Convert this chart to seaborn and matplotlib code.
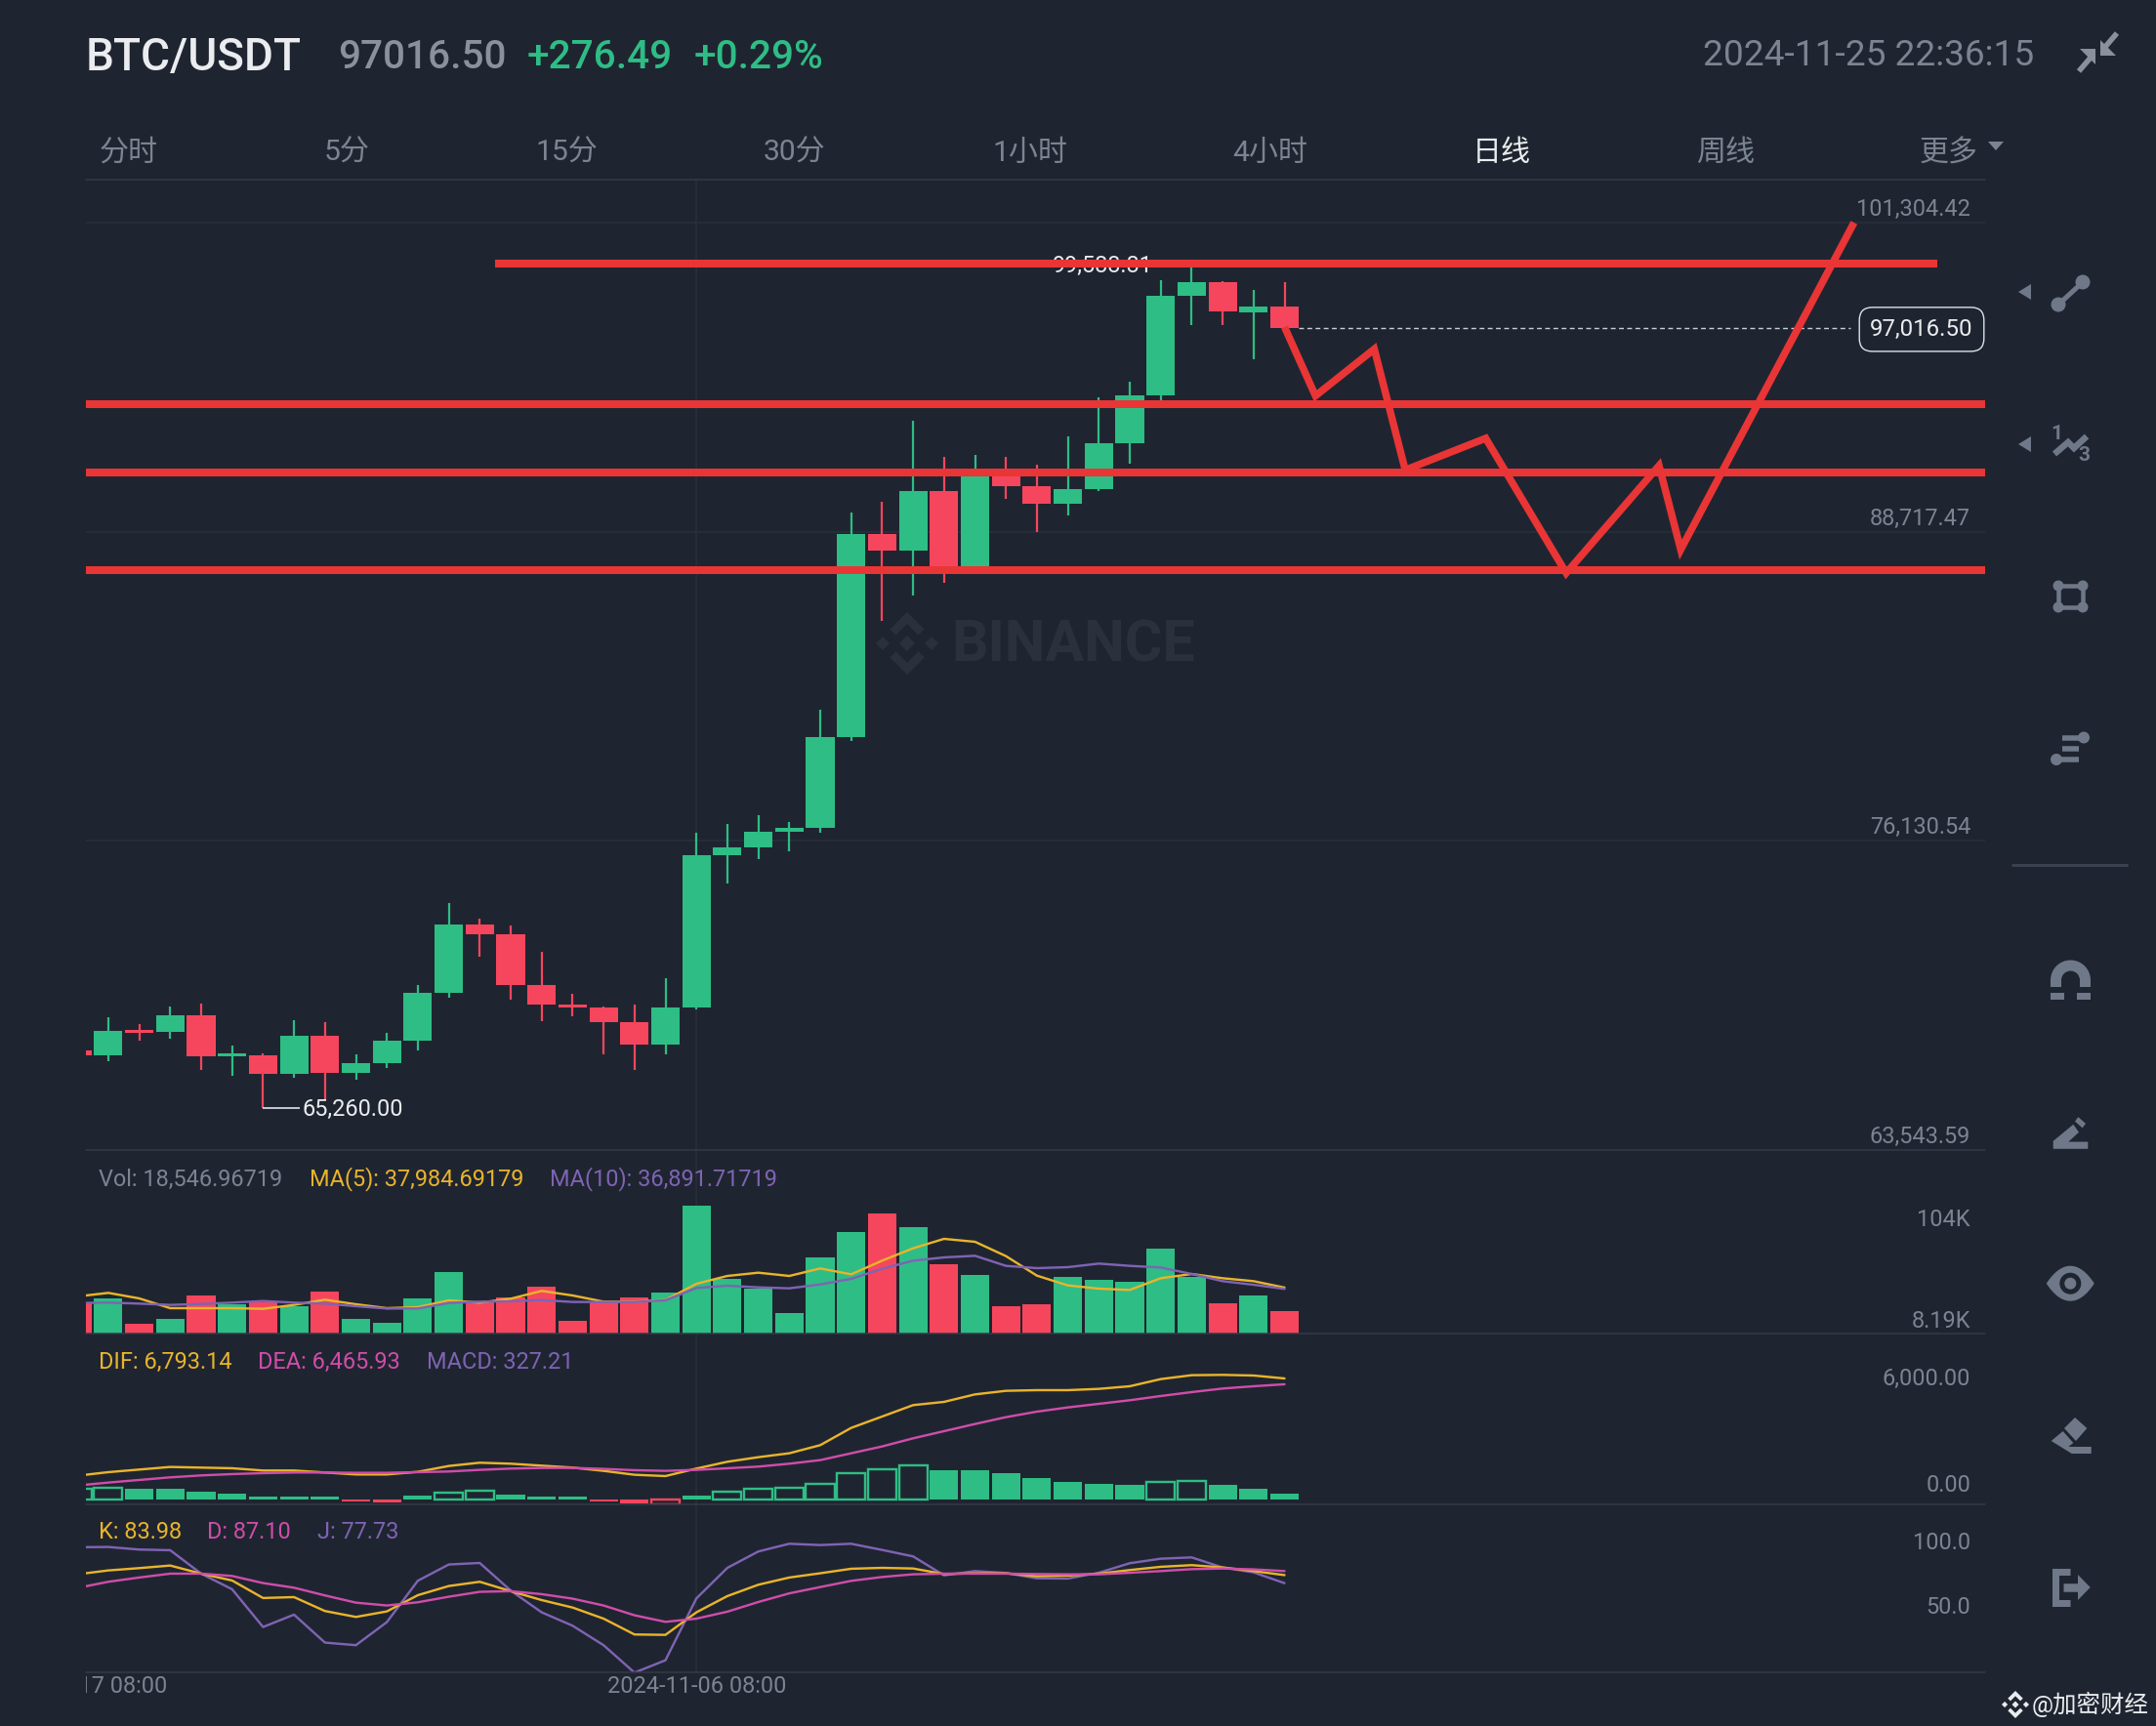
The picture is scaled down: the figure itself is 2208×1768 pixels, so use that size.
import matplotlib
matplotlib.use("Agg")
import matplotlib.pyplot as plt
import seaborn as sns
import numpy as np
import pandas as pd
from matplotlib.patches import Circle, Polygon, Rectangle, Wedge, PathPatch
from matplotlib.path import Path

W, H, DPI = 2208, 1768, 100
BG = "#1F2530"
GRID = "#2A303B"
AXLINE = "#333A46"
GREEN = "#2EBD85"
RED = "#F6465D"
DRAW_RED = "#E93535"
YELLOW = "#E9B42C"
PINK = "#CF4DAA"
PURPLE = "#7F63B4"
MUTED = "#7B8491"
ICON = "#6F7888"

opens = [67598, 67412, 68420, 68366, 69016, 67373, 67399, 66657, 68181, 66684,
         67068, 68009, 69957, 72712, 72328, 70274, 69480, 69360, 68764, 67836,
         69347, 75561, 75853, 76502, 76661, 80358, 88626, 87950, 90362, 87314,
         91100, 90573, 89845, 90454, 92309, 94283, 98312, 98881, 97662, 97888]
closes = [67399, 68406, 68300, 69016, 67373, 67479, 66657, 68181, 66684, 67068,
          67995, 69943, 72712, 72328, 70274, 69480, 69360, 68764, 67836, 69347,
          75548, 75853, 76489, 76661, 80358, 88626, 87950, 90362, 87275, 91223,
          90587, 89845, 90454, 92309, 94270, 98312, 98881, 97675, 97888, 97016.5]
highs = [67598, 68963, 68658, 69373, 69493, 67810, 67466, 68817, 68737, 67426,
         68300, 70248, 73587, 72951, 72673, 71600, 69890, 69387, 69466, 70553,
         76463, 76820, 77178, 76886, 81484, 89513, 89924, 93250, 91766, 91845,
         91753, 91435, 92588, 94204, 94814, 98974, 99588.81, 98908, 98550, 98868]
lows = [67399, 67174, 67996, 68088, 66816, 66551, 65260, 66498, 65584, 66419,
        66896, 67598, 69745, 71427, 69678, 68804, 68976, 67452, 66816, 67452,
        69281, 74408, 75390, 75723, 76476, 80199, 85072, 86134, 86651, 87314,
        90044, 88718, 89368, 90362, 91488, 94072, 97119, 97132, 95728, 97016.5]

volumes = [25800, 29030, 8064, 12365, 31718, 24192, 25805, 22848, 34675, 11827,
           8602, 29299, 50534, 25536, 29568, 38707, 10483, 25805, 30106, 33600,
           105638, 45158, 36826, 16934, 62630, 83597, 98918, 87898, 57523, 48384,
           22848, 24192, 47040, 44083, 42470, 70157, 46502, 24998, 31450, 18546.96719]
vol_ma5 = [30643, 33600, 29030, 20966, 20966, 20966, 20429, 23654, 27955, 24192,
           20966, 21773, 27418, 25536, 28762, 35213, 31450, 26342, 26342, 27686,
           41126, 47578, 50266, 47578, 53760, 48922, 60211, 70426, 78221, 75802,
           63974, 47846, 39782, 37094, 36019, 45696, 49190, 45696, 43277, 37984.69179]
vol_ma10 = [25267, 25536, 24730, 23654, 24461, 25536, 26880, 25536, 24730, 22579,
            20698, 20698, 25267, 26342, 26611, 27686, 26074, 26074, 26074, 27418,
            37632, 39514, 38170, 37363, 40589, 45158, 53491, 60211, 62899, 64243,
            55910, 54029, 54835, 57792, 55910, 54566, 49190, 43277, 40320, 36891.71719]

dif = [1312, 1514, 1660, 1807, 1770, 1734, 1605, 1605, 1495, 1385,
       1385, 1532, 1862, 2045, 1990, 1880, 1770, 1587, 1367, 1294,
       1715, 2100, 2357, 2577, 3035, 4007, 4648, 5290, 5473, 5895,
       6096, 6133, 6133, 6206, 6353, 6756, 6976, 6994, 6958, 6793.14]
dea = [762, 927, 1074, 1221, 1330, 1404, 1459, 1495, 1495, 1477,
       1477, 1514, 1550, 1642, 1715, 1752, 1752, 1697, 1624, 1587,
       1642, 1733, 1826, 1990, 2192, 2577, 2962, 3420, 3823, 4227,
       4612, 4923, 5161, 5363, 5565, 5803, 6023, 6225, 6353, 6465.93]
macd_hist = [605, 623, 587, 587, 440, 312, 147, 147, 147, -110,
             -202, 220, 367, 458, 275, 147, 147, -110, -257, -290,
             220, 440, 568, 642, 862, 1466, 1705, 1888, 1650, 1631,
             1485, 1210, 971, 862, 806, 971, 1008, 788, 587, 327.21]
macd_hollow = [1, 1, 0, 0, 0, 0, 0, 0, 0, 0,
               0, 0, 1, 1, 0, 0, 0, 0, 0, 1,
               0, 1, 1, 1, 1, 1, 1, 1, 0, 0,
               0, 0, 0, 0, 0, 1, 1, 0, 0, 0]

kdj_k = [84.6, 87.6, 89.4, 91.4, 85.1, 79.8, 66.2, 66.9, 56.1, 51.5,
         55.8, 68.4, 75.5, 78.8, 71.5, 64.6, 58.8, 50.2, 37.9, 37.6,
         55.1, 67.7, 76.5, 82.1, 85.4, 88.9, 89.6, 89.1, 84.8, 85.4,
         85.4, 83.1, 83.6, 85.1, 87.9, 90.4, 91.7, 89.9, 87.1, 83.98]
kdj_d = [74.0, 78.8, 82.1, 85.1, 85.1, 83.3, 77.8, 74.2, 68.2, 62.6,
         60.4, 62.9, 67.2, 71.0, 71.5, 69.2, 65.7, 60.4, 52.8, 47.7,
         50.2, 55.6, 63.1, 69.8, 74.7, 79.5, 82.5, 84.6, 85.1, 85.1,
         85.1, 84.8, 84.6, 84.6, 85.8, 87.1, 88.6, 89.1, 88.4, 87.10]
kdj_j = [105.6, 105.8, 103.8, 103.3, 85.1, 73.0, 43.7, 53.3, 31.6, 29.6,
         47.5, 79.6, 92.2, 93.4, 72.0, 55.1, 44.7, 29.6, 8.3, 17.9,
         65.9, 89.6, 102.3, 108.3, 107.3, 108.3, 103.5, 98.5, 83.8, 87.1,
         85.6, 81.5, 81.3, 85.8, 93.2, 96.7, 97.7, 89.9, 86.1, 77.73]

price_ticks = [101304.42, 88717.47, 76130.54, 63543.59]
support_levels = [93926, 91143, 87155]
resistance_level = 99623
last_price = 97016.50
day_low = 65260.00
day_high = 99588.81

# Hand-drawn forecast path over the candles: bar position, price
forecast_pos = [39.0, 40.0, 41.9, 42.9, 45.5, 48.1, 51.1, 51.8, 57.4]
forecast_price = [97053, 94250, 96155, 91229, 92521, 87036, 91408, 87990, 101304]

macd_ticks = [6000.0, 0.0]
macd_tick_labels = ["6,000.00", "0.00"]
kdj_ticks = [100.0, 50.0]
kdj_tick_labels = ["100.0", "50.0"]
date_pos = [0, 20]
date_labels = ["2024-10-17 08:00", "2024-11-06 08:00"]
tabs = ["分时", "5分", "15分", "30分", "1小时", "4小时", "日线", "周线", "更多"]
tab_x = [102, 332, 548, 782, 1016, 1262, 1508, 1737, 1966]

sns.set_theme(style="dark", rc={"figure.facecolor": BG, "axes.facecolor": BG,
                                "savefig.facecolor": BG})
plt.rcParams["font.family"] = ["Roboto", "Noto Sans CJK SC", "DejaVu Sans"]

PX_L, PX_R = 88, 2033
BAR0_PX, BAR_STEP = 79.2, 31.7
XLIM = ((PX_L - BAR0_PX) / BAR_STEP, (PX_R - BAR0_PX) / BAR_STEP)
idx = np.arange(len(opens))
BAR_W = 0.915

fig = plt.figure(figsize=(W / DPI, H / DPI), dpi=DPI, facecolor=BG)


def pt(px):
    return px * 72 / DPI


def panel(top, bottom, ylim):
    ax = fig.add_axes([PX_L / W, 1 - bottom / H, (PX_R - PX_L) / W, (bottom - top) / H])
    ax.set_xlim(*XLIM)
    ax.set_ylim(*ylim)
    ax.set_facecolor("none")
    ax.set_axis_off()
    ax.axvline(20, color=GRID, lw=pt(1.5), zorder=0)
    return ax


# Pane extents in pixels and the value range each one spans
PRICE_PER_PX = (price_ticks[0] - price_ticks[1]) / 316.67
price_ax = panel(184, 1178, (price_ticks[3], price_ticks[3] + 994 * PRICE_PER_PX))
vol_ax = panel(1178, 1366, (0, 188 * 806.4))
macd_ax = panel(1366, 1541, (-5.5 * 55, 169.5 * 55))
kdj_ax = panel(1541, 1713, (139.6 - 0.7575 * 173, 139.6 - 0.7575))
date_ax = fig.add_axes([PX_L / W, 0, (PX_R - PX_L) / W, (H - 1713) / H])
date_ax.set_xlim(*XLIM)
date_ax.set_ylim(H, 1713)
date_ax.set_axis_off()
date_ax.set_facecolor("none")

# Price pane
for level in price_ticks[:3]:
    price_ax.axhline(level, color=GRID, lw=pt(1.5), zorder=0)

up = np.array(closes) >= np.array(opens)
candle_colors = [GREEN if u else RED for u in up]
price_ax.vlines(idx, lows, highs, colors=candle_colors, lw=pt(2.2), zorder=2)
body_low = np.minimum(opens, closes)
body_height = np.abs(np.array(closes) - np.array(opens))
price_ax.bar(idx, body_height, bottom=body_low, width=BAR_W, color=candle_colors,
             zorder=3, linewidth=0)

price_ax.hlines(last_price, 39.45, (1895 - BAR0_PX) / BAR_STEP, colors="#C9CDD4",
                lw=pt(1.4), linestyles=(0, (3.5, 2.5)), zorder=2)
price_ax.annotate(f"{last_price:,.2f}", xy=((1968 - BAR0_PX) / BAR_STEP, last_price),
                  xytext=(0, -pt(1.5)), textcoords="offset points", color="#EAECEF",
                  fontsize=pt(24), ha="center", va="center", zorder=6,
                  bbox=dict(boxstyle="round,pad=0.46,rounding_size=0.55", fc=BG, ec="#DDE0E4", lw=pt(1.4)))

price_ax.hlines(day_low, 6, 7.2, colors="#EAECEF", lw=pt(1.6), zorder=4)
price_ax.annotate(f"{day_low:,.2f}", xy=(7.25, day_low), xytext=(0, -pt(1.5)),
                  textcoords="offset points", color="#EAECEF", fontsize=pt(23.5),
                  ha="left", va="center", zorder=5)
price_ax.hlines(day_high, 34.8, 36, colors="#EAECEF", lw=pt(1.6), zorder=1)
price_ax.annotate(f"{day_high:,.2f}", xy=(34.75, day_high), xytext=(0, -pt(1.5)),
                  textcoords="offset points", color="#EAECEF", fontsize=pt(23.5),
                  ha="right", va="center", zorder=4)

# Support and resistance lines with the forecast path on top
for level in support_levels:
    price_ax.axhline(level, color=DRAW_RED, lw=pt(8), solid_capstyle="butt", zorder=7)
price_ax.hlines(resistance_level, (507 - BAR0_PX) / BAR_STEP, (1984 - BAR0_PX) / BAR_STEP,
                colors=DRAW_RED, lw=pt(8), zorder=7)
sns.lineplot(x=forecast_pos, y=forecast_price, ax=price_ax, color=DRAW_RED, lw=pt(7.5),
             estimator=None, sort=False, legend=False, zorder=8, solid_joinstyle="miter",
             solid_capstyle="butt")
price_ax.set_xlim(*XLIM)
price_ax.set_ylim(price_ticks[3], price_ticks[3] + 994 * PRICE_PER_PX)
price_ax.set_axis_off()

# Volume pane
vol_df = pd.DataFrame({"bar": idx, "volume": volumes, "side": ["up" if u else "down" for u in up]})
sns.barplot(data=vol_df, x="bar", y="volume", hue="side", palette={"up": GREEN, "down": RED},
            hue_order=["up", "down"], dodge=False, native_scale=True, width=BAR_W, errorbar=None,
            saturation=1, legend=False, linewidth=0, ax=vol_ax, zorder=2)
sns.lineplot(x=idx, y=vol_ma5, ax=vol_ax, color=YELLOW, lw=pt(2.4), estimator=None, legend=False, zorder=4)
sns.lineplot(x=idx, y=vol_ma10, ax=vol_ax, color=PURPLE, lw=pt(2.4), estimator=None, legend=False, zorder=5)
vol_ax.set_xlim(*XLIM)
vol_ax.set_ylim(0, 188 * 806.4)
vol_ax.set_axis_off()

# MACD pane
hist = np.array(macd_hist, dtype=float)
hollow = np.array(macd_hollow, dtype=bool)
hist_colors = np.array([GREEN if v >= 0 else RED for v in hist])
macd_ax.bar(idx[~hollow], hist[~hollow], width=BAR_W, color=hist_colors[~hollow], linewidth=0, zorder=2)
macd_ax.bar(idx[hollow], hist[hollow], width=BAR_W, facecolor="none", edgecolor=hist_colors[hollow],
            linewidth=pt(2.4), zorder=2)
sns.lineplot(x=idx, y=dif, ax=macd_ax, color=YELLOW, lw=pt(2.4), estimator=None, legend=False, zorder=4)
sns.lineplot(x=idx, y=dea, ax=macd_ax, color=PINK, lw=pt(2.4), estimator=None, legend=False, zorder=5)
macd_ax.set_xlim(*XLIM)
macd_ax.set_ylim(-5.5 * 55, 169.5 * 55)
macd_ax.set_axis_off()

# KDJ pane
sns.lineplot(x=idx, y=kdj_j, ax=kdj_ax, color=PURPLE, lw=pt(2.4), estimator=None, legend=False, zorder=3)
sns.lineplot(x=idx, y=kdj_k, ax=kdj_ax, color=YELLOW, lw=pt(2.4), estimator=None, legend=False, zorder=4)
sns.lineplot(x=idx, y=kdj_d, ax=kdj_ax, color=PINK, lw=pt(2.4), estimator=None, legend=False, zorder=5)
kdj_ax.set_xlim(*XLIM)
kdj_ax.set_ylim(139.6 - 0.7575 * 173, 139.6 - 0.7575)
kdj_ax.set_axis_off()

# Time labels, clipped at the pane's left edge
for pos, text in zip(date_pos, date_labels):
    date_ax.text(pos, 1727, text, color=MUTED, fontsize=pt(23.5), ha="center", va="center", clip_on=True)

# Page furniture in pixel coordinates
ov = fig.add_axes([0, 0, 1, 1], zorder=20)
ov.set_xlim(0, W)
ov.set_ylim(H, 0)
ov.set_axis_off()
ov.set_facecolor("none")


def label(x, y, s, color=MUTED, size=23.5, ha="left", **kw):
    ov.text(x, y, s, color=color, fontsize=pt(size), ha=ha, va="center", **kw)


# Panel separators
ov.plot([88, 2033], [184, 184], color=AXLINE, lw=pt(1.5))
for y in (1178, 1366, 1540.5, 1713):
    ov.plot([88, 2033], [y, y], color=AXLINE, lw=pt(1.5))
ov.plot([2061, 2178], [886, 886], color="#3A424F", lw=pt(3))

# Header
label(88, 59, "BTC/USDT", color="#EAECEF", size=46, fontweight="medium")
label(346, 59, "97016.50", color="#8A919C", size=40.5, fontweight="medium")
label(540, 59, "+276.49", color=GREEN, size=40.5, fontweight="medium")
label(711, 59, "+0.29%", color=GREEN, size=40.5, fontweight="medium")
label(2083, 57, "2024-11-25 22:36:15", color=MUTED, size=37, ha="right")

for name, x in zip(tabs, tab_x):
    label(x, 157, name, color="#EAECEF" if name == "日线" else MUTED, size=30, ha="left")
ov.add_patch(Polygon([(2036, 145), (2052, 145), (2044, 154)], closed=True, fc=MUTED, ec="none"))

# Right-hand value labels
RIGHT = 2018
for value in price_ticks:
    y = 1178 - (value - price_ticks[3]) / PRICE_PER_PX
    label(RIGHT, y - 13.5, f"{value:,.2f}", ha="right")
label(RIGHT, 1250, "104K", ha="right")
label(RIGHT, 1353, "8.19K", ha="right")
for value, text in zip(macd_ticks, macd_tick_labels):
    label(RIGHT, 1535.5 - value / 55 - 13.5, text, ha="right")
for value, text in zip(kdj_ticks, kdj_tick_labels):
    label(RIGHT, 1541 + (139.6 - value) / 0.7575 - 13, text, ha="right")

# Indicator read-outs
label(101, 1208, f"Vol: {volumes[-1]:,.5f}")
label(317, 1208, f"MA(5): {vol_ma5[-1]:,.5f}", color=YELLOW)
label(563, 1208, f"MA(10): {vol_ma10[-1]:,.5f}", color=PURPLE)
label(101, 1395, f"DIF: {dif[-1]:,.2f}", color=YELLOW)
label(264, 1395, f"DEA: {dea[-1]:,.2f}", color=PINK)
label(437, 1395, f"MACD: {macd_hist[-1]:,.2f}", color=PURPLE)
label(101, 1569, f"K: {kdj_k[-1]:.2f}", color=YELLOW)
label(212, 1569, f"D: {kdj_d[-1]:.2f}", color=PINK)
label(325, 1569, f"J: {kdj_j[-1]:.2f}", color=PURPLE)


def logo(cx, cy, s, color):
    """Four-point diamond mark built from a centre square and corner chevrons."""
    def diamond(x, y, r):
        return Polygon([(x, y - r), (x + r, y), (x, y + r), (x - r, y)], closed=True, fc=color, ec="none")
    ov.add_patch(diamond(cx, cy, s * 0.25))
    ov.add_patch(diamond(cx - s * 0.78, cy, s * 0.22))
    ov.add_patch(diamond(cx + s * 0.78, cy, s * 0.22))
    for sign in (-1, 1):
        ov.add_patch(Polygon([(cx, cy + sign * s), (cx + s * 0.55, cy + sign * s * 0.45),
                              (cx + s * 0.36, cy + sign * s * 0.26), (cx, cy + sign * s * 0.62),
                              (cx - s * 0.36, cy + sign * s * 0.26), (cx - s * 0.55, cy + sign * s * 0.45)],
                             closed=True, fc=color, ec="none"))


# Watermark and source credit
logo(929, 659, 32, "#2B313C")
label(974, 661, "BINANCE", color="#2B313C", size=59, fontweight="bold")
logo(2064, 1746, 14, "#EAECEF")
label(2081, 1746, "@加密财经", color="#EAECEF", size=24.5)


# Drawing-tool icons down the right side
def poly(points, color=ICON):
    ov.add_patch(Polygon(points, closed=True, fc=color, ec="none"))


def dot(x, y, r, color=ICON):
    ov.add_patch(Circle((x, y), r, fc=color, ec="none"))


def stroke(xs, ys, w, color=ICON, **kw):
    ov.plot(xs, ys, color=color, lw=pt(w), solid_capstyle="butt", **kw)


# collapse arrows
stroke([2168, 2156], [34, 48], 5.5, color="#8A919C")
poly([(2151, 41), (2151, 57), (2167, 57)], color="#8A919C")
stroke([2129, 2141], [73, 59], 5.5, color="#8A919C")
poly([(2146, 66), (2146, 50), (2130, 50)], color="#8A919C")

# trend line tool
poly([(2067, 299), (2080, 291), (2080, 307)])
stroke([2108, 2133], [312, 289], 5)
dot(2133, 289, 7.5)
dot(2108, 312, 7.5)

# wave tool
poly([(2067, 455), (2080, 447), (2080, 463)])
stroke([2104, 2118, 2124, 2137], [465, 453, 459, 447], 6.5, solid_joinstyle="miter")
ov.text(2106, 445, "1", color=ICON, fontsize=pt(21), fontweight="bold", ha="center", va="center")
ov.text(2134, 467, "3", color=ICON, fontsize=pt(21), fontweight="bold", ha="center", va="center")

# rectangle tool
ov.add_patch(Rectangle((2108, 600), 25, 22, fc="none", ec=ICON, lw=pt(4.5)))
for x in (2108, 2133):
    for y in (600, 622):
        dot(x, y, 5.5)

# fibonacci tool
stroke([2112, 2134], [755.5, 755.5], 5.5)
dot(2134, 755.5, 6)
stroke([2112, 2129], [766.5, 766.5], 5.5)
stroke([2106, 2129], [778, 778], 5.5)
dot(2106, 778, 6)

# magnet
ov.add_patch(Wedge((2120.5, 1004), 20.5, 180, 360, width=11, fc=ICON, ec="none"))
ov.add_patch(Rectangle((2100, 1004), 11, 7, fc=ICON, ec="none"))
ov.add_patch(Rectangle((2130, 1004), 11, 7, fc=ICON, ec="none"))
ov.add_patch(Rectangle((2100, 1017), 13.5, 6.5, fc=ICON, ec="none"))
ov.add_patch(Rectangle((2127, 1017), 14, 6.5, fc=ICON, ec="none"))

# pencil
poly([(2102.7, 1168.8), (2123.3, 1151.8), (2129, 1159.8), (2118.3, 1169.6), (2138.3, 1169.6),
      (2138.3, 1176.8), (2102.7, 1176.8)])
poly([(2125, 1148.7), (2128.3, 1144.2), (2136, 1150.9), (2132.7, 1155.4)])

# eye
eye_x, eye_y = 2120.3, 1314.7
eye_path = Path([(eye_x - 24.5, eye_y), (eye_x - 9, eye_y - 24), (eye_x + 9, eye_y - 24), (eye_x + 24.5, eye_y),
                 (eye_x + 9, eye_y + 24), (eye_x - 9, eye_y + 24), (eye_x - 24.5, eye_y)],
                [Path.MOVETO, Path.CURVE4, Path.CURVE4, Path.CURVE4, Path.CURVE4, Path.CURVE4, Path.CURVE4])
ov.add_patch(PathPatch(eye_path, fc=ICON, ec="none"))
dot(eye_x, eye_y, 11, color=BG)
dot(eye_x, eye_y, 6)

# eraser
poly([(2125, 1452), (2137.3, 1463), (2126, 1476), (2114, 1463)])
poly([(2100.7, 1476), (2112.7, 1466), (2123.3, 1478), (2118.3, 1482), (2141.7, 1482),
      (2141.7, 1489), (2121.7, 1489)])

# exit
stroke([2120, 2105, 2105, 2120], [1609.5, 1609.5, 1642, 1642], 7, solid_joinstyle="miter")
stroke([2113, 2128], [1626, 1626], 8.5)
poly([(2128, 1613), (2140.7, 1626), (2128, 1639)])

fig.savefig("out.png", dpi=DPI, facecolor=BG)
